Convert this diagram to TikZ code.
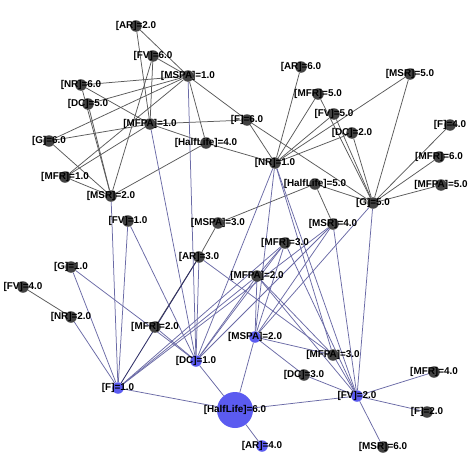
\documentclass[tikz,border=0pt]{standalone}
\usepackage{fontspec}
\setmainfont{Liberation Sans}
\usetikzlibrary{backgrounds}
\definecolor{nodegray}{HTML}{424242}
\definecolor{nodeblue}{HTML}{5B5BF0}
\definecolor{edgegray}{HTML}{5A5A5A}
\definecolor{edgeblue}{HTML}{6A6AA6}
\definecolor{edgedark}{HTML}{2E2E66}
\newcommand\mkgray[4]{\node[gn] (#1) at (#2,#3) {}; \node[lab] (#1l) at (#1) {#4};}
\newcommand\mkblue[4]{\node[bn] (#1) at (#2,#3) {}; \node[lab] (#1l) at (#1) {#4};}
\begin{document}
\begin{tikzpicture}[x=1pt,y=-1pt,
  gn/.style={circle,fill=nodegray,inner sep=0pt,minimum size=11.5pt},
  bn/.style={circle,fill=nodeblue,inner sep=0pt,minimum size=11.5pt},
  lab/.style={font=\bfseries\fontsize{9.9}{10}\selectfont,inner sep=0pt,text=black},
  ge/.style={draw=edgegray,line width=0.75pt},
  be/.style={draw=edgeblue,line width=0.75pt},
  de/.style={draw=edgedark,line width=0.85pt}]
\useasboundingbox (0,0) rectangle (474,474);
% gray nodes
\mkgray{ar2}{136}{26}{[AR]=2.0}
\mkgray{fv6}{153}{56}{[FV]=6.0}
\mkgray{mspa1}{188}{76}{[MSPA]=1.0}
\mkgray{nr6}{81}{85}{[NR]=6.0}
\mkgray{dc5}{88}{104}{[DC]=5.0}
\mkgray{mfpa1}{150}{124}{[MFPA]=1.0}
\mkgray{g6}{49}{141}{[G]=6.0}
\mkgray{hl4}{206}{143}{[HalfLife]=4.0}
\mkgray{f6}{247}{120}{[F]=6.0}
\mkgray{nr1}{275}{163}{[NR]=1.0}
\mkgray{ar6}{301}{67}{[AR]=6.0}
\mkgray{msr5}{410}{74}{[MSR]=5.0}
\mkgray{mfr5}{318}{94}{[MFR]=5.0}
\mkgray{fv5}{334}{114}{[FV]=5.0}
\mkgray{dc2}{352}{133}{[DC]=2.0}
\mkgray{f4}{450}{125}{[F]=4.0}
\mkgray{mfr6}{439}{157}{[MFR]=6.0}
\mkgray{hl5}{315}{184}{[HalfLife]=5.0}
\mkgray{mfpa5}{441}{185}{[MFPA]=5.0}
\mkgray{g5}{373}{203}{[G]=5.0}
\mkgray{msr4}{333}{224}{[MSR]=4.0}
\mkgray{mfr3}{285}{243}{[MFR]=3.0}
\mkgray{mfpa2}{257}{276}{[MFPA]=2.0}
\mkgray{mfr1}{65}{177}{[MFR]=1.0}
\mkgray{msr2}{111}{196}{[MSR]=2.0}
\mkgray{fv1}{128}{221}{[FV]=1.0}
\mkgray{mspa3}{218}{223}{[MSPA]=3.0}
\mkgray{ar3}{199}{257}{[AR]=3.0}
\mkgray{g1}{71}{267}{[G]=1.0}
\mkgray{fv4}{23}{287}{[FV]=4.0}
\mkgray{nr2}{71}{317}{[NR]=2.0}
\mkgray{mfr2}{155}{327}{[MFR]=2.0}
\mkgray{mfpa3}{333}{355}{[MFPA]=3.0}
\mkgray{dc3}{304}{375}{[DC]=3.0}
\mkgray{mfr4}{434}{372}{[MFR]=4.0}
\mkgray{f2}{427}{412}{[F]=2.0}
\mkgray{msr6}{383}{447}{[MSR]=6.0}
% blue nodes
\mkblue{dc1}{196}{361}{[DC]=1.0}
\mkblue{f1}{118}{388}{[F]=1.0}
\mkblue{mspa2}{255}{337}{[MSPA]=2.0}
\mkblue{fv2}{357}{396}{[FV]=2.0}
\mkblue{ar4}{262}{446}{[AR]=4.0}
\node[bn,minimum size=36pt] (hl6) at (235,410) {};
\node[lab] (hl6l) at (hl6) {[HalfLife]=6.0};
\begin{scope}[on background layer]
\fill[white] (0,0) rectangle (474,474);
\foreach \a/\b in {ar2/mspa1,ar2/mfpa1,fv6/mspa1,fv6/mfpa1,fv6/msr2,
  mspa1/nr6,mspa1/dc5,mspa1/g6,mspa1/mfr1,mspa1/hl4,mspa1/f6,
  mfpa1/nr6,mfpa1/g6,mfpa1/mfr1,mfpa1/f6,mfpa1/hl4,
  nr6/msr2,dc5/msr2,g6/msr2,mfr1/msr2,hl4/msr2,hl4/nr1,
  f6/nr1,f6/g5,nr1/ar6,nr1/mfr5,nr1/fv5,nr1/msr5,nr1/dc2,
  mfr5/g5,fv5/g5,dc2/g5,msr5/g5,f4/g5,mfr6/g5,mfpa5/g5,
  hl5/g5,hl5/msr4,hl5/mspa3,ar3/mspa3,ar3/mfr2,fv4/nr2}
  \draw[ge] (\a) -- (\b);
\foreach \a/\b in {mspa1/dc1,mfpa1/dc1,msr2/f1,fv1/f1,fv1/dc1,ar3/dc1,
  mfr2/dc1,g1/dc1,g1/f1,nr2/f1,nr1/dc1,nr1/mspa2,nr1/fv2,nr1/mfpa3,
  mfr3/dc1,mfr3/f1,mfr3/fv2,mfr3/mfpa2,mfr3/mspa2,
  mfpa2/dc1,mfpa2/f1,mfpa2/mspa2,mfpa2/fv2,mfpa2/mfpa3,ar3/mfpa3,
  msr4/mspa2,msr4/dc1,msr4/fv2,msr4/f1,g5/mspa2,g5/fv2,
  mspa2/mfpa3,mspa2/dc3,mspa2/hl6,mfpa3/fv2,dc3/fv2,
  fv2/mfr4,fv2/f2,fv2/msr6,fv2/hl6,hl6/dc1,hl6/f1,hl6/ar4}
  \draw[be] (\a) -- (\b);
\draw[de] (ar3) -- (f1);
\end{scope}
\end{tikzpicture}
\end{document}
